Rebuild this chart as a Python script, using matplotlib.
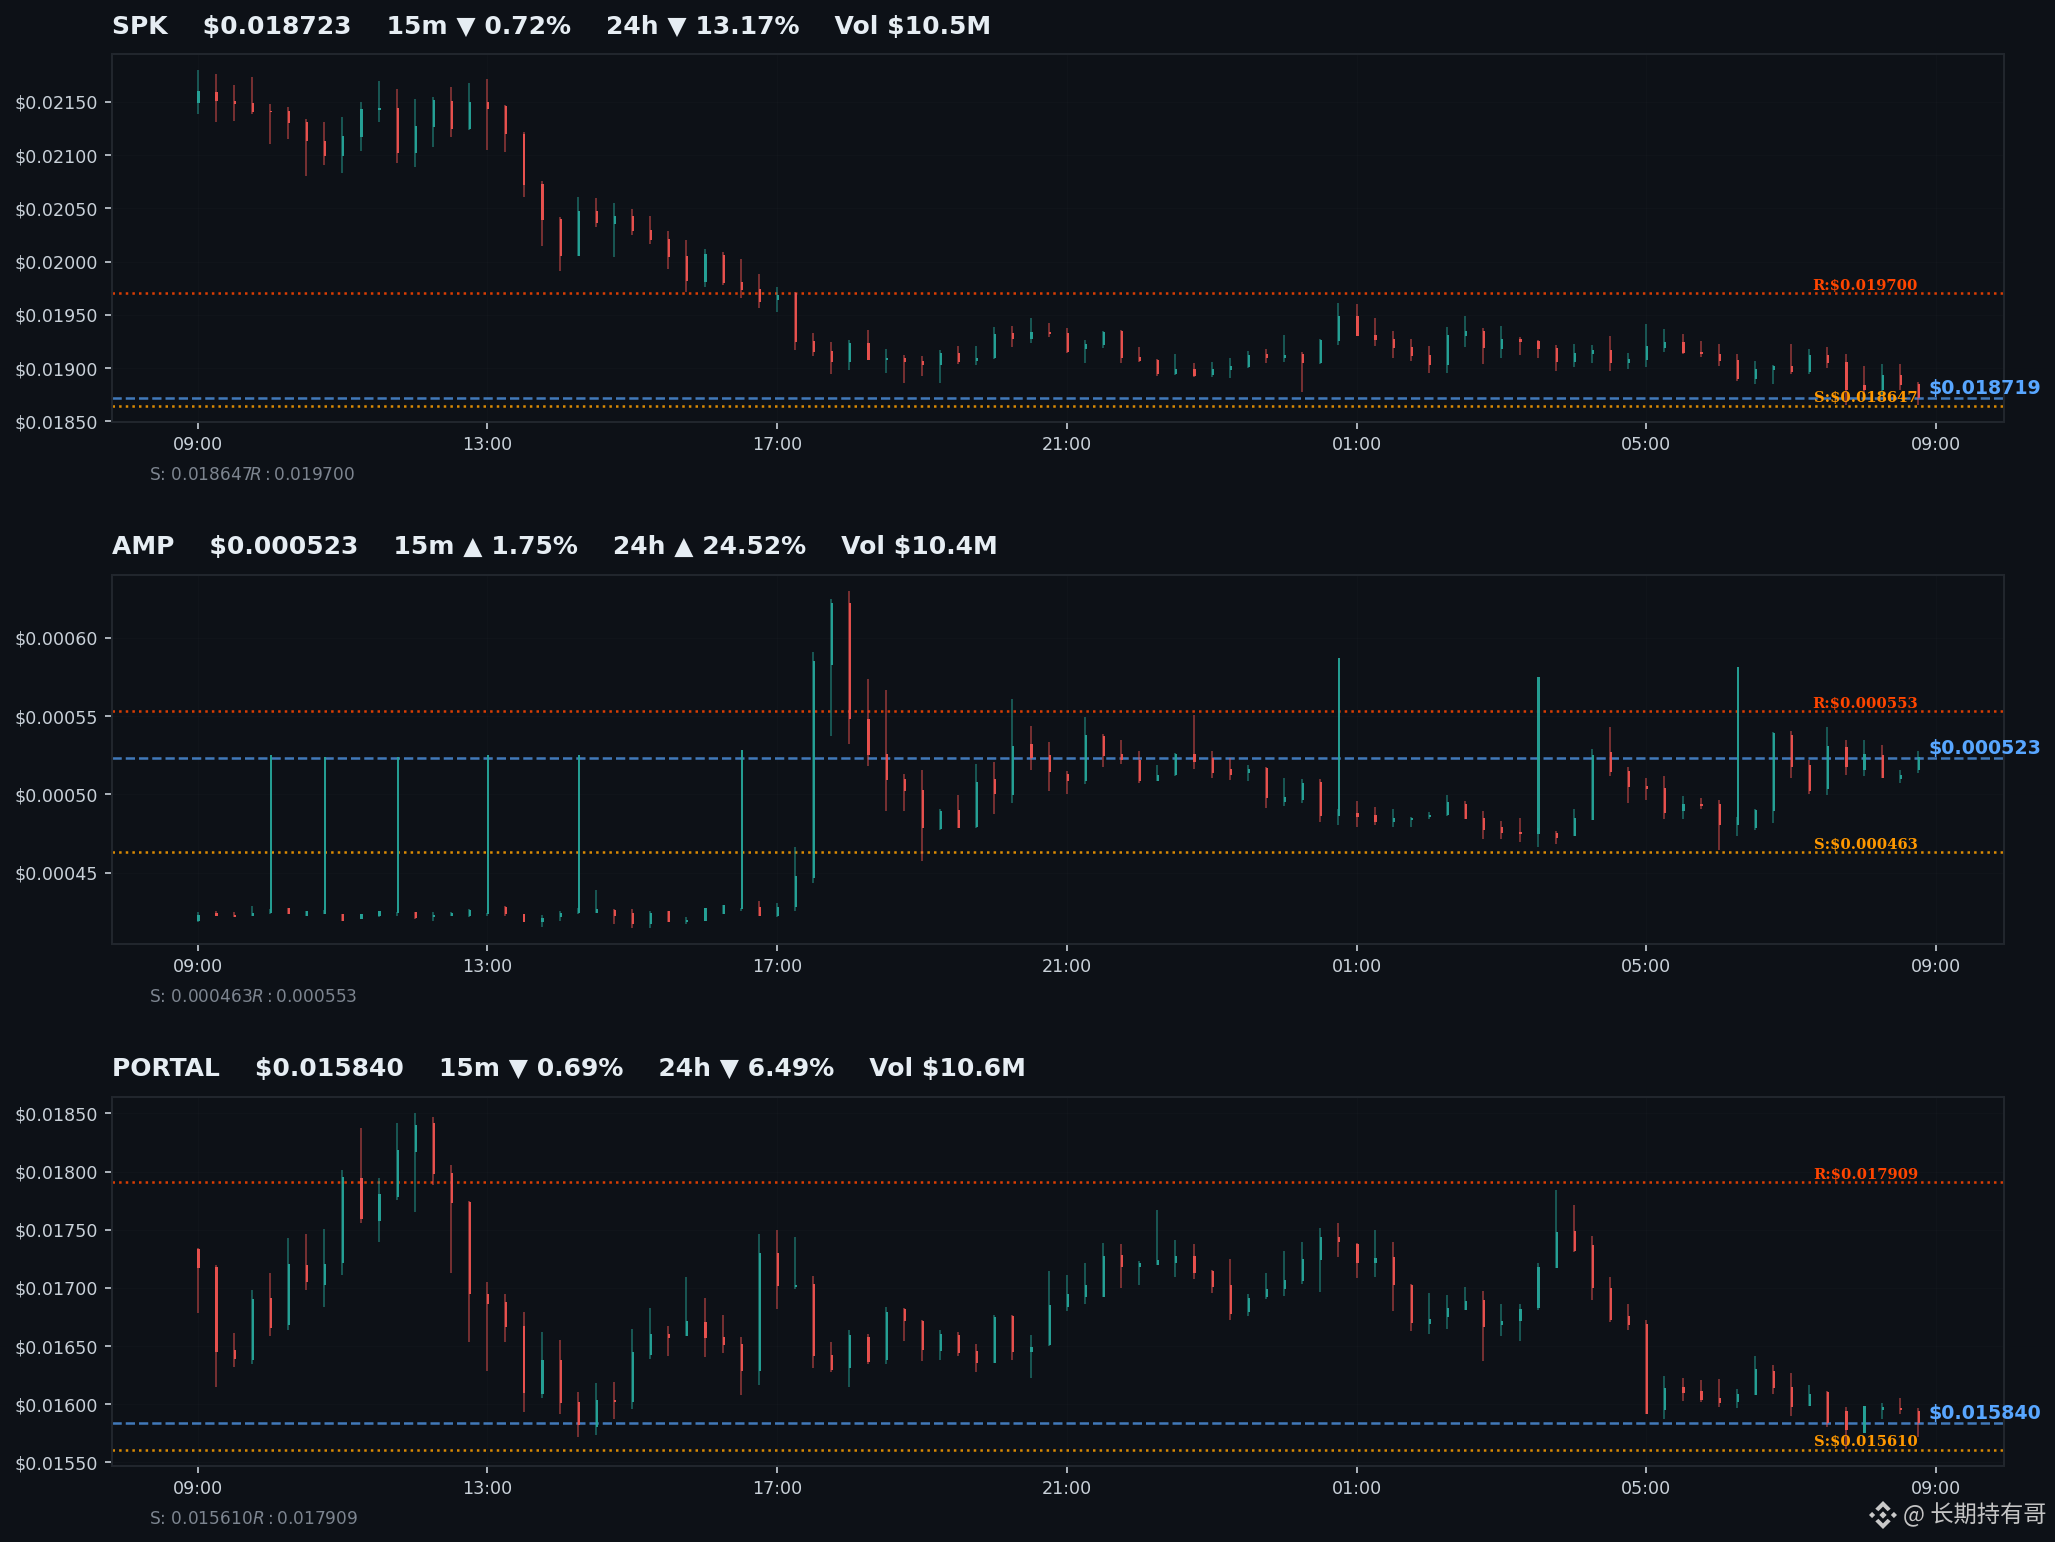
import matplotlib
matplotlib.use("Agg")
import matplotlib.pyplot as plt
from matplotlib.patches import Polygon
import numpy as np

# prices in millionths of a dollar, one value per 15m candle
spk_high = [21797,21759,21656,21731,21478,21450,21338,21309,21356,21497,
            21694,21619,21525,21544,21638,21675,21713,21469,21216,20756,
            20419,20606,20597,20550,20494,20428,20288,20203,20119,20091,
            20025,19884,19763,19716,19332,19247,19266,19360,19182,19125,
            19116,19172,19210,19210,19388,19397,19472,19425,19378,19266,
            19350,19360,19200,19088,19135,19050,19060,19097,19163,19182,
            19313,19153,19275,19613,19603,19472,19350,19275,19210,19388,
            19491,19378,19397,19294,19266,19219,19228,19219,19303,19144,
            19416,19369,19322,19257,19228,19135,19069,19032,19228,19182,
            19200,19135,19022,19041,19041,18872]
spk_low = [21384,21309,21319,21384,21103,21150,20803,20906,20831,21038,
           21309,20925,20888,21075,21169,21234,21047,21028,20606,20147,
           19913,20053,20325,20044,20250,20166,19931,19716,19763,19781,
           19659,19566,19528,19172,19116,18947,18985,19078,18957,18863,
           18928,18863,19041,19032,19088,19200,19238,19294,19144,19050,
           19191,19050,19060,18928,18938,18919,18919,18910,19003,19050,
           19060,18778,19041,19219,19303,19210,19097,19069,18957,18957,
           19200,19041,19097,19125,19097,18975,19013,19050,18975,18994,
           19013,19153,19135,19107,19022,18882,18853,18853,18947,18947,
           19003,18657,18750,18750,18797,18657]
spk_top = [21600,21591,21506,21488,21413,21413,21309,21131,21178,21431,
           21441,21441,21272,21516,21506,21497,21497,21456,21197,20728,
           20400,20475,20475,20428,20428,20297,20213,20053,20072,20063,
           19809,19744,19688,19707,19257,19163,19238,19238,19097,19097,
           19069,19144,19144,19097,19322,19332,19341,19341,19332,19228,
           19341,19350,19107,19078,18994,18994,18994,19022,19125,19135,
           19125,19135,19266,19491,19491,19313,19275,19200,19125,19313,
           19350,19350,19275,19275,19257,19191,19144,19172,19172,19088,
           19210,19247,19247,19153,19135,19078,18994,19022,19022,19125,
           19125,19060,18844,18938,18938,18853]
spk_bottom = [21488,21506,21478,21403,21403,21300,21131,20991,20991,21169,
              21422,21019,21019,21263,21244,21244,21431,21197,20719,20391,
              20053,20053,20363,20353,20288,20203,20044,19819,19809,19800,
              19734,19622,19641,19247,19153,19060,19060,19078,19078,19060,
              19032,19032,19060,19069,19097,19275,19275,19322,19153,19182,
              19219,19097,19069,18947,18947,18928,18938,18985,19013,19097,
              19097,19050,19050,19257,19303,19266,19191,19116,19032,19032,
              19303,19191,19182,19247,19182,19060,19060,19135,19050,19050,
              19078,19191,19144,19135,19069,18900,18900,18985,18966,18966,
              19050,18797,18797,18797,18844,18722]
spk_dirs = "UDDDDDDDUU" "UDUUDUDDDD" "DUDUDDDDUD" "DDUDDDUDUD" "DUDUUDUDDU" \
           "UDDDUDUUUD" "UDUUDDDDDU" "UDUDDDUUDU" "UUDDDDUUDU" "DDDUDD"

amp_high = [425.1,425.7,425.1,428.9,427.0,427.6,425.7,426.3,423.8,423.8,
            425.7,425.1,425.1,425.1,425.1,427.0,424.4,428.9,423.8,423.2,
            425.7,427.6,439.1,427.0,427.0,425.7,425.7,421.9,427.6,429.5,
            427.6,432.1,430.8,466.6,591.1,624.9,630.0,573.8,566.8,513.2,
            515.7,490.8,499.8,519.6,520.8,561.0,543.8,533.6,515.1,549.6,
            538.7,534.9,527.9,518.9,526.6,550.8,527.9,523.4,518.9,517.6,
            510.6,510.0,510.0,490.8,495.9,492.1,490.8,485.7,488.9,499.8,
            495.9,489.6,483.2,485.1,478.7,476.8,490.8,529.1,543.2,517.7,
            510.6,511.9,499.1,497.9,496.6,485.7,490.8,540.0,540.6,522.1,
            543.2,534.9,534.9,531.7,515.7,527.9]
amp_low = [418.7,422.5,421.9,422.5,423.8,423.8,422.5,423.8,419.3,420.6,
           421.9,422.5,420.6,419.3,422.5,421.9,422.5,422.5,418.7,415.5,
           419.3,423.8,424.4,417.4,414.8,414.8,418.7,417.4,419.3,423.8,
           425.7,422.5,421.9,425.7,443.6,537.4,532.3,518.3,489.5,489.5,
           457.6,477.4,478.7,478.7,487.6,494.7,515.7,502.3,500.4,506.8,
           517.6,519.6,507.4,508.7,511.9,516.4,510.6,509.3,508.7,491.5,
           492.7,494.7,482.5,480.6,479.3,480.6,479.3,479.3,484.4,486.4,
           484.5,471.7,471.7,469.8,466.6,468.5,473.6,483.8,511.9,494.7,
           496.6,484.5,484.5,490.8,464.7,473.6,477.4,481.9,510.6,500.4,
           499.8,512.5,511.9,510.6,507.4,513.8]
amp_top = [423.2,424.4,423.2,424.4,525.3,427.6,425.7,524.0,423.8,423.8,
           425.7,524.0,425.1,423.2,424.4,426.3,525.3,428.0,423.8,421.2,
           424.4,525.3,427.0,426.3,424.4,424.4,425.7,420.0,427.6,429.5,
           528.5,428.3,428.3,448.1,585.3,622.3,622.3,548.3,525.9,510.0,
           502.9,489.5,490.2,508.1,510.0,531.0,532.3,525.3,513.2,538.1,
           537.4,525.9,522.1,512.5,525.9,525.9,523.4,516.4,516.4,517.0,
           498.5,507.4,508.1,587.2,488.3,487.0,485.1,485.1,487.0,495.3,
           494.0,485.1,479.3,476.2,575.1,475.5,485.1,525.3,527.2,515.1,
           505.5,504.3,494.0,494.0,494.0,581.5,490.2,539.4,538.1,518.9,
           531.1,530.4,526.0,525.3,512.5,524.0]
amp_bottom = [419.3,422.5,421.9,422.5,424.4,423.8,422.5,423.8,419.3,420.6,
              422.5,424.4,421.2,421.9,422.5,422.5,423.8,423.8,418.7,418.7,
              421.9,424.4,424.4,422.5,417.4,417.4,418.7,418.7,419.3,423.8,
              427.0,422.5,422.5,428.3,446.8,582.8,548.3,525.1,509.3,502.3,
              478.7,478.1,478.7,479.3,500.4,499.8,523.4,514.4,508.7,508.7,
              524.7,522.1,508.7,508.7,512.5,520.8,513.8,512.5,513.8,497.8,
              495.3,496.6,486.4,486.4,485.7,482.5,482.5,483.8,485.7,487.0,
              484.5,477.4,475.5,474.9,474.9,472.3,473.6,483.8,514.5,504.9,
              503.6,488.3,489.6,492.8,480.6,480.6,478.7,489.6,517.7,502.3,
              503.6,517.7,515.7,510.6,510.0,515.7]
amp_dirs = "UDDUUDUUDU" "UUDUUUUDDU" "UUUDDUDUUU" "UDUUUUDDDD" "DUDUDUDDDU" \
           "DDDUUDDDUD" "UUDUDDUUUU" "DDDDUDUUDD" "DDUDDUUUDD" "UDUDUU"

portal_high = [17340,17194,16609,16979,17125,17426,17460,17503,18010,18371,
               17942,18414,18500,18466,18053,17744,17048,16945,16790,16618,
               16549,16102,16180,16188,16644,16824,16670,17091,16910,16764,
               16575,17460,17494,17434,17099,16532,16635,16601,16833,16824,
               16721,16635,16618,16515,16764,16764,16592,17142,17108,17211,
               17383,17374,17228,17666,17408,17374,17151,17245,16944,17125,
               17314,17391,17512,17555,17383,17494,17391,17030,16953,16936,
               17005,16970,16859,16859,17211,17841,17710,17443,17091,16859,
               16721,16240,16223,16205,16214,16128,16412,16334,16266,16163,
               16111,15973,15982,16008,16051,15965]
portal_low = [16781,16145,16317,16343,16584,16635,16979,16833,17108,17555,
              17392,17753,17649,17882,17125,16532,16283,16532,15930,16051,
              15913,15716,15733,15870,15956,16386,16412,16584,16403,16437,
              16076,16162,16815,16987,16308,16274,16145,16343,16343,16540,
              16368,16377,16411,16274,16351,16377,16222,16497,16798,16858,
              16919,16996,17022,17194,17090,17073,16953,16721,16755,16901,
              16927,17030,16962,17262,17082,17090,16798,16626,16601,16644,
              16807,16369,16584,16541,16807,17168,17306,16893,16704,16635,
              15913,15870,16025,16016,15973,15965,16077,16085,15896,15982,
              15801,15618,15750,15870,15913,15715]
portal_top = [17331,17177,16463,16902,16910,17202,17194,17202,17950,17942,
              17804,18182,18397,18414,17985,17735,16945,16876,16670,16377,
              16377,16016,16034,16034,16446,16601,16601,16713,16704,16575,
              16515,17297,17297,17022,17030,16420,16592,16575,16790,16815,
              16712,16601,16592,16454,16747,16755,16489,16850,16944,17022,
              17271,17280,17211,17237,17271,17271,17142,17022,16910,16987,
              17065,17245,17434,17434,17374,17254,17262,17022,16729,16824,
              16884,16893,16712,16816,17177,17477,17486,17366,16996,16755,
              16687,16137,16145,16111,16051,16085,16300,16283,16145,16085,
              16102,15939,15982,15973,15965,15939]
portal_bottom = [17168,16446,16386,16377,16652,16678,17048,17022,17211,17589,
                 17572,17778,18165,17976,17727,16945,16859,16661,16094,16085,
                 16008,15819,15802,16016,16016,16420,16566,16584,16566,16506,
                 16283,16283,17013,17004,16411,16291,16308,16360,16377,16712,
                 16463,16454,16437,16351,16351,16446,16446,16506,16833,16919,
                 16919,17176,17176,17194,17211,17125,17004,16772,16790,16919,
                 16987,17056,17237,17391,17211,17211,17022,16695,16686,16747,
                 16807,16661,16678,16712,16824,17168,17314,16996,16721,16678,
                 15913,15947,16094,16033,16008,16016,16077,16137,15973,15982,
                 15836,15776,15750,15947,15947,15839]
portal_dirs = "DDDUDUDUUD" "UUUDDDDDDU" "DDUDUUDUDD" "DUDUDDUDUD" "DUDDUDUUUU" \
              "UDUUUDDDUU" "UUUDDUDDUU" "UDUUUUDDDD" "DUDDDUUDDU" "DDUUDD"

time_labels = ["09:00", "13:00", "17:00", "21:00", "01:00", "05:00", "09:00"]

panels = [
    dict(title="SPK    $0.018723    15m ▼ 0.72%    24h ▼ 13.17%    Vol $10.5M",
         high=spk_high, low=spk_low, top=spk_top, bottom=spk_bottom, dirs=spk_dirs,
         price=18719, support=18647, resist=19700, ylim=(18493, 21949),
         yticks=[18500, 19000, 19500, 20000, 20500, 21000, 21500]),
    dict(title="AMP    $0.000523    15m ▲ 1.75%    24h ▲ 24.52%    Vol $10.4M",
         high=amp_high, low=amp_low, top=amp_top, bottom=amp_bottom, dirs=amp_dirs,
         price=523.2, support=463, resist=553, ylim=(404.5, 640.3),
         yticks=[450, 500, 550, 600]),
    dict(title="PORTAL    $0.015840    15m ▼ 0.69%    24h ▼ 6.49%    Vol $10.6M",
         high=portal_high, low=portal_low, top=portal_top, bottom=portal_bottom, dirs=portal_dirs,
         price=15840, support=15610, resist=17909, ylim=(15472, 18644),
         yticks=[15500, 16000, 16500, 17000, 17500, 18000, 18500]),
]

BG = "#0d1117"
UP = "#26a69a"
DOWN = "#ef5350"
W, H = 2055, 1542
AX_LEFT, AX_RIGHT = 111.5, 2004
AX_ROWS = [(54, 422), (574.7, 944), (1096.7, 1465.7)]

plt.rcParams["font.family"] = ["DejaVu Sans", "Noto Sans CJK SC"]
fig = plt.figure(figsize=(W / 150, H / 150), dpi=150, facecolor=BG)


def draw_panel(ax, p):
    ax.set_facecolor(BG)
    x = np.arange(len(p["high"]))
    high = np.array(p["high"]) * 1e-6
    low = np.array(p["low"]) * 1e-6
    top = np.array(p["top"]) * 1e-6
    bottom = np.array(p["bottom"]) * 1e-6
    colors = [UP if d == "U" else DOWN for d in p["dirs"]]

    ax.vlines(x, low, high, colors=colors, lw=0.8, alpha=0.55, zorder=3)
    ax.bar(x + 0.05, top - bottom, bottom=bottom, width=0.12, color=colors, alpha=0.95, zorder=3)

    price, support, resist = p["price"] * 1e-6, p["support"] * 1e-6, p["resist"] * 1e-6
    ax.axhline(price, color="#58a6ff", ls="--", lw=1.2, alpha=0.7, zorder=2)
    ax.axhline(resist, color="#ff4500", ls=":", lw=1.2, alpha=0.85, zorder=2)
    ax.axhline(support, color="#ffa000", ls=":", lw=1.2, alpha=0.85, zorder=2)

    last = len(x) - 1
    ax.annotate(f"R:${resist:.6f}", (last, resist), xytext=(0, 1.6), textcoords="offset points",
                ha="right", va="baseline", fontsize=7.1, fontweight="bold", family="DejaVu Serif",
                color="#ff4500", parse_math=False, zorder=5)
    ax.annotate(f"S:${support:.6f}", (last, support), xytext=(0, 1.6), textcoords="offset points",
                ha="right", va="baseline", fontsize=7.1, fontweight="bold", family="DejaVu Serif",
                color="#ff9800", parse_math=False, zorder=5)
    ax.annotate(f"${round(p['price']) * 1e-6:.6f}", (last + 0.58, price), xytext=(0, 2), textcoords="offset points",
                ha="left", va="baseline", fontsize=9.1, fontweight="bold",
                color="#58a6ff", parse_math=False, annotation_clip=False, zorder=5)

    ax.set_xlim(-4.75, 99.75)
    ax.set_ylim(p["ylim"][0] * 1e-6, p["ylim"][1] * 1e-6)
    ax.set_xticks(np.arange(0, 97, 16))
    ax.set_xticklabels(time_labels)
    yticks = np.array(p["yticks"]) * 1e-6
    ax.set_yticks(yticks)
    ax.set_yticklabels([f"${v:.5f}" for v in yticks], parse_math=False)
    ax.tick_params(colors="#c9d1d9", labelsize=8.4, length=3.2, width=0.8)
    ax.grid(True, color="#ffffff", alpha=0.015, lw=0.6)
    ax.set_axisbelow(True)
    for s in ax.spines.values():
        s.set_color("#21262d")
        s.set_linewidth(1.0)

    ax.set_title(p["title"], loc="left", pad=9.8, fontsize=12.0, fontweight="bold",
                 color="#e6edf3", parse_math=False)
    # the two dollar signs turn the middle of this string into mathtext, as in the original
    ax.text(0.0196, -0.157, f"S: ${p['support'] * 1e-6:.6f}  R: ${p['resist'] * 1e-6:.6f}",
            transform=ax.transAxes, fontsize=8.15, color="#7d8590", va="baseline", ha="left")


for (y_top, y_bottom), panel in zip(AX_ROWS, panels):
    ax = fig.add_axes([AX_LEFT / W, 1 - y_bottom / H, (AX_RIGHT - AX_LEFT) / W, (y_bottom - y_top) / H])
    draw_panel(ax, panel)

# watermark: logo made of diamonds and chevrons, then the account name
logo = fig.add_axes([1869 / W, 1 - 1529 / H, 28 / W, 28 / H])
logo.set_xlim(-1, 1)
logo.set_ylim(-1, 1)
logo.axis("off")
logo_color = "#c9c9c9"
for cx, cy, r in [(0, 0, 0.26), (-0.78, 0, 0.22), (0.78, 0, 0.22)]:
    logo.add_patch(Polygon([(cx, cy + r), (cx + r, cy), (cx, cy - r), (cx - r, cy)], color=logo_color, lw=0))
for sign in (1, -1):
    logo.add_patch(Polygon([(0, sign), (0.55, sign * 0.45), (0.33, sign * 0.27), (0, sign * 0.6),
                            (-0.33, sign * 0.27), (-0.55, sign * 0.45)], color=logo_color, lw=0))
fig.text(1903 / W, 1 - 1515 / H, "@ 长期持有哥", fontsize=11.2, color="#c4c4c4",
         family=["Noto Sans CJK SC", "DejaVu Sans"], ha="left", va="center")

fig.savefig("out.png", dpi=150, facecolor=BG)
